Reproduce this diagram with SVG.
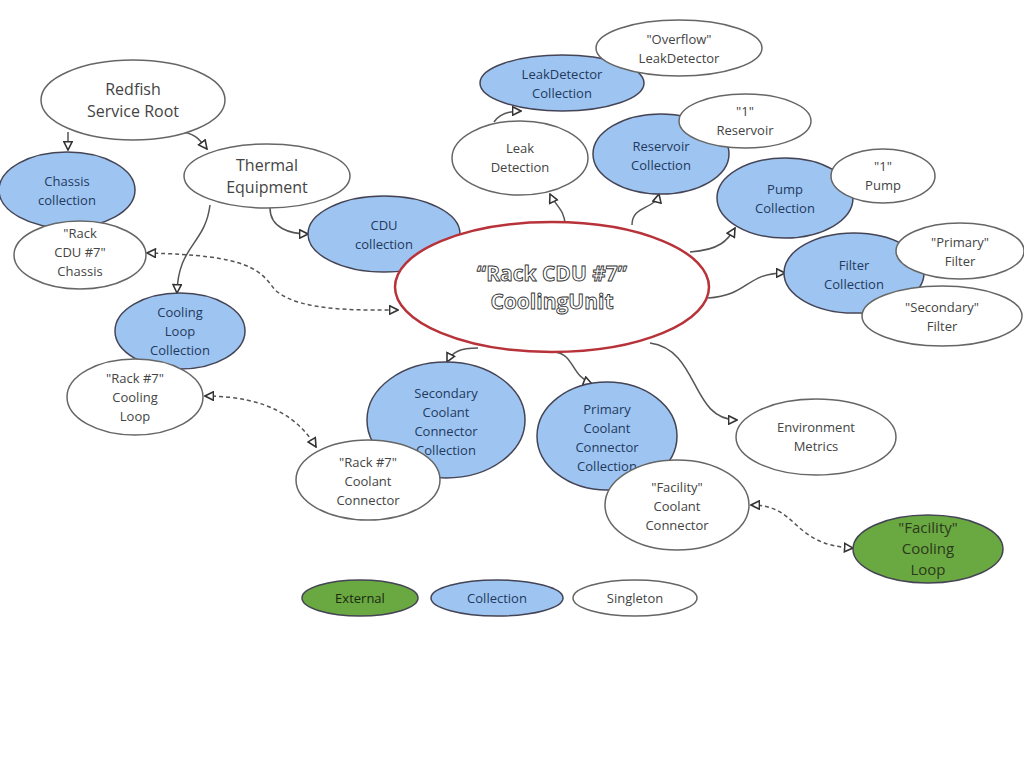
<svg xmlns="http://www.w3.org/2000/svg" width="1024" height="770" viewBox="0 0 1024 770">
<style>
.s{fill:#fff;stroke:#666;stroke-width:1.5}
.c{fill:#9ec5f2;stroke:#445;stroke-width:1.5}
.e{fill:#6aa842;stroke:#445;stroke-width:1.5}
.t{font-family:"Open Sans","DejaVu Sans",sans-serif;font-size:13px;fill:#444;text-anchor:middle}
.tc{fill:#23395d}
.big{font-size:16px}
.l{fill:none;stroke:#555;stroke-width:1.5;marker-end:url(#a)}
.d{stroke-dasharray:4 3;marker-start:url(#a)}
</style>
<defs>
<marker id="a" viewBox="0 0 10 10" refX="9" refY="5" markerWidth="7" markerHeight="7" orient="auto-start-reverse"><path d="M1,1 L9,5 L1,9 Z" fill="#fff" stroke="#333" stroke-width="1.5"/></marker>
</defs>
<rect width="1024" height="770" fill="#fff"/>
<g id="connectors">
<path class="l" d="M68,132 L68,150"/>
<path class="l" d="M178,132 C195,132 200,140 207,149"/>
<path class="l" d="M270,208 C270,228 290,234 308,234"/>
<path class="l" d="M210,205 C205,245 178,245 177,293"/>
<path class="l d" d="M147,253 C250,255 260,270 275,290 C300,312 360,310 398,310"/>
<path class="l" d="M565,225 C565,210 555,205 550,194"/>
<path class="l" d="M494,122 C500,113 510,111 521,111"/>
<path class="l" d="M632,225 C632,205 655,210 659,194"/>
<path class="l" d="M690,252 C720,250 728,240 735,228"/>
<path class="l" d="M708,298 C750,295 745,273 785,273"/>
<path class="l" d="M478,348 C460,348 452,352 447,362"/>
<path class="l" d="M555,352 C575,355 570,375 592,384"/>
<path class="l" d="M650,343 C700,350 690,420 737,420"/>
<path class="l d" d="M205,396 C270,396 300,420 316,447"/>
<path class="l d" d="M751,505 C800,505 790,545 853,548"/>
</g>
<g id="root"><ellipse class="s" cx="133" cy="100" rx="92" ry="40"/><text class="t big" x="133" y="95">Redfish</text><text class="t big" x="133" y="117">Service Root</text></g>
<g id="chassiscol"><ellipse class="c" cx="67" cy="190" rx="68" ry="38"/><text class="t tc" x="67" y="186">Chassis</text><text class="t tc" x="67" y="205">collection</text></g>
<g id="chassis"><ellipse class="s" cx="80" cy="255" rx="66" ry="34"/><text class="t" x="80" y="238">"Rack</text><text class="t" x="80" y="257">CDU #7"</text><text class="t" x="80" y="276">Chassis</text></g>
<g id="thermal"><ellipse class="s" cx="267" cy="176" rx="83" ry="32"/><text class="t big" x="267" y="171">Thermal</text><text class="t big" x="267" y="193">Equipment</text></g>
<g id="cducol"><ellipse class="c" cx="384" cy="234" rx="76" ry="38"/><text class="t tc" x="384" y="230">CDU</text><text class="t tc" x="384" y="249">collection</text></g>
<g id="cooling-loop-col"><ellipse class="c" cx="180" cy="331" rx="65" ry="38"/><text class="t tc" x="180" y="317">Cooling</text><text class="t tc" x="180" y="336">Loop</text><text class="t tc" x="180" y="355">Collection</text></g>
<g id="rack-cooling-loop"><ellipse class="s" cx="135" cy="397" rx="68" ry="38"/><text class="t" x="135" y="383">"Rack #7"</text><text class="t" x="135" y="402">Cooling</text><text class="t" x="135" y="421">Loop</text></g>
<g id="leakcol"><ellipse class="c" cx="562" cy="83" rx="82" ry="28"/><text class="t tc" x="562" y="79">LeakDetector</text><text class="t tc" x="562" y="98">Collection</text></g>
<g id="overflow"><ellipse class="s" cx="679" cy="48" rx="83" ry="28"/><text class="t" x="679" y="44">"Overflow"</text><text class="t" x="679" y="63">LeakDetector</text></g>
<g id="leakdet"><ellipse class="s" cx="520" cy="158" rx="68" ry="37"/><text class="t" x="520" y="153">Leak</text><text class="t" x="520" y="172">Detection</text></g>
<g id="rescol"><ellipse class="c" cx="661" cy="154" rx="68" ry="40"/><text class="t tc" x="661" y="151">Reservoir</text><text class="t tc" x="661" y="170">Collection</text></g>
<g id="res"><ellipse class="s" cx="745" cy="121" rx="66" ry="27"/><text class="t" x="745" y="116">"1"</text><text class="t" x="745" y="135">Reservoir</text></g>
<g id="pumpcol"><ellipse class="c" cx="785" cy="198" rx="68" ry="40"/><text class="t tc" x="785" y="194">Pump</text><text class="t tc" x="785" y="213">Collection</text></g>
<g id="pump"><ellipse class="s" cx="883" cy="176" rx="52" ry="27"/><text class="t" x="883" y="171">"1"</text><text class="t" x="883" y="190">Pump</text></g>
<g id="filtercol"><ellipse class="c" cx="854" cy="273" rx="70" ry="40"/><text class="t tc" x="854" y="270">Filter</text><text class="t tc" x="854" y="289">Collection</text></g>
<g id="primaryfilter"><ellipse class="s" cx="960" cy="251" rx="64" ry="28"/><text class="t" x="960" y="247">"Primary"</text><text class="t" x="960" y="266">Filter</text></g>
<g id="secfilter"><ellipse class="s" cx="942" cy="316" rx="80" ry="30"/><text class="t" x="942" y="312">"Secondary"</text><text class="t" x="942" y="331">Filter</text></g>
<g id="cdu"><ellipse cx="552" cy="287" rx="157" ry="65" fill="#fff" stroke="#b8323a" stroke-width="2.5"/><text class="t" x="552" y="281" style="font-size:21px;font-weight:bold;fill:#fff;stroke:#333;stroke-width:0.9">“Rack CDU #7”</text><text class="t" x="552" y="309" style="font-size:21px;font-weight:bold;fill:#fff;stroke:#333;stroke-width:0.9">CoolingUnit</text></g>
<g id="seccol"><ellipse class="c" cx="446" cy="420" rx="79" ry="58"/><text class="t tc" x="446" y="398">Secondary</text><text class="t tc" x="446" y="417">Coolant</text><text class="t tc" x="446" y="436">Connector</text><text class="t tc" x="446" y="455">Collection</text></g>
<g id="primcol"><ellipse class="c" cx="607" cy="436" rx="70" ry="54"/><text class="t tc" x="607" y="414">Primary</text><text class="t tc" x="607" y="433">Coolant</text><text class="t tc" x="607" y="452">Connector</text><text class="t tc" x="607" y="471">Collection</text></g>
<g id="rackcc"><ellipse class="s" cx="368" cy="480" rx="72" ry="40"/><text class="t" x="368" y="467">"Rack #7"</text><text class="t" x="368" y="486">Coolant</text><text class="t" x="368" y="505">Connector</text></g>
<g id="faccc"><ellipse class="s" cx="677" cy="505" rx="72" ry="45"/><text class="t" x="677" y="492">"Facility"</text><text class="t" x="677" y="511">Coolant</text><text class="t" x="677" y="530">Connector</text></g>
<g id="env"><ellipse class="s" cx="816" cy="437" rx="80" ry="38"/><text class="t" x="816" y="432">Environment</text><text class="t" x="816" y="451">Metrics</text></g>
<g id="facloop"><ellipse class="e" cx="928" cy="549" rx="75" ry="34"/><text class="t" x="928" y="533" style="fill:#2a3a1a;font-size:15px">"Facility"</text><text class="t" x="928" y="554" style="fill:#2a3a1a;font-size:15px">Cooling</text><text class="t" x="928" y="575" style="fill:#2a3a1a;font-size:15px">Loop</text></g>
<g id="legend">
<ellipse class="e" cx="360" cy="598" rx="58" ry="18"/><text class="t" x="360" y="603" style="fill:#1a2a10">External</text>
<ellipse class="c" cx="497" cy="598" rx="66" ry="18"/><text class="t tc" x="497" y="603">Collection</text>
<ellipse class="s" cx="635" cy="598" rx="62" ry="18"/><text class="t" x="635" y="603">Singleton</text>
</g>
</svg>
